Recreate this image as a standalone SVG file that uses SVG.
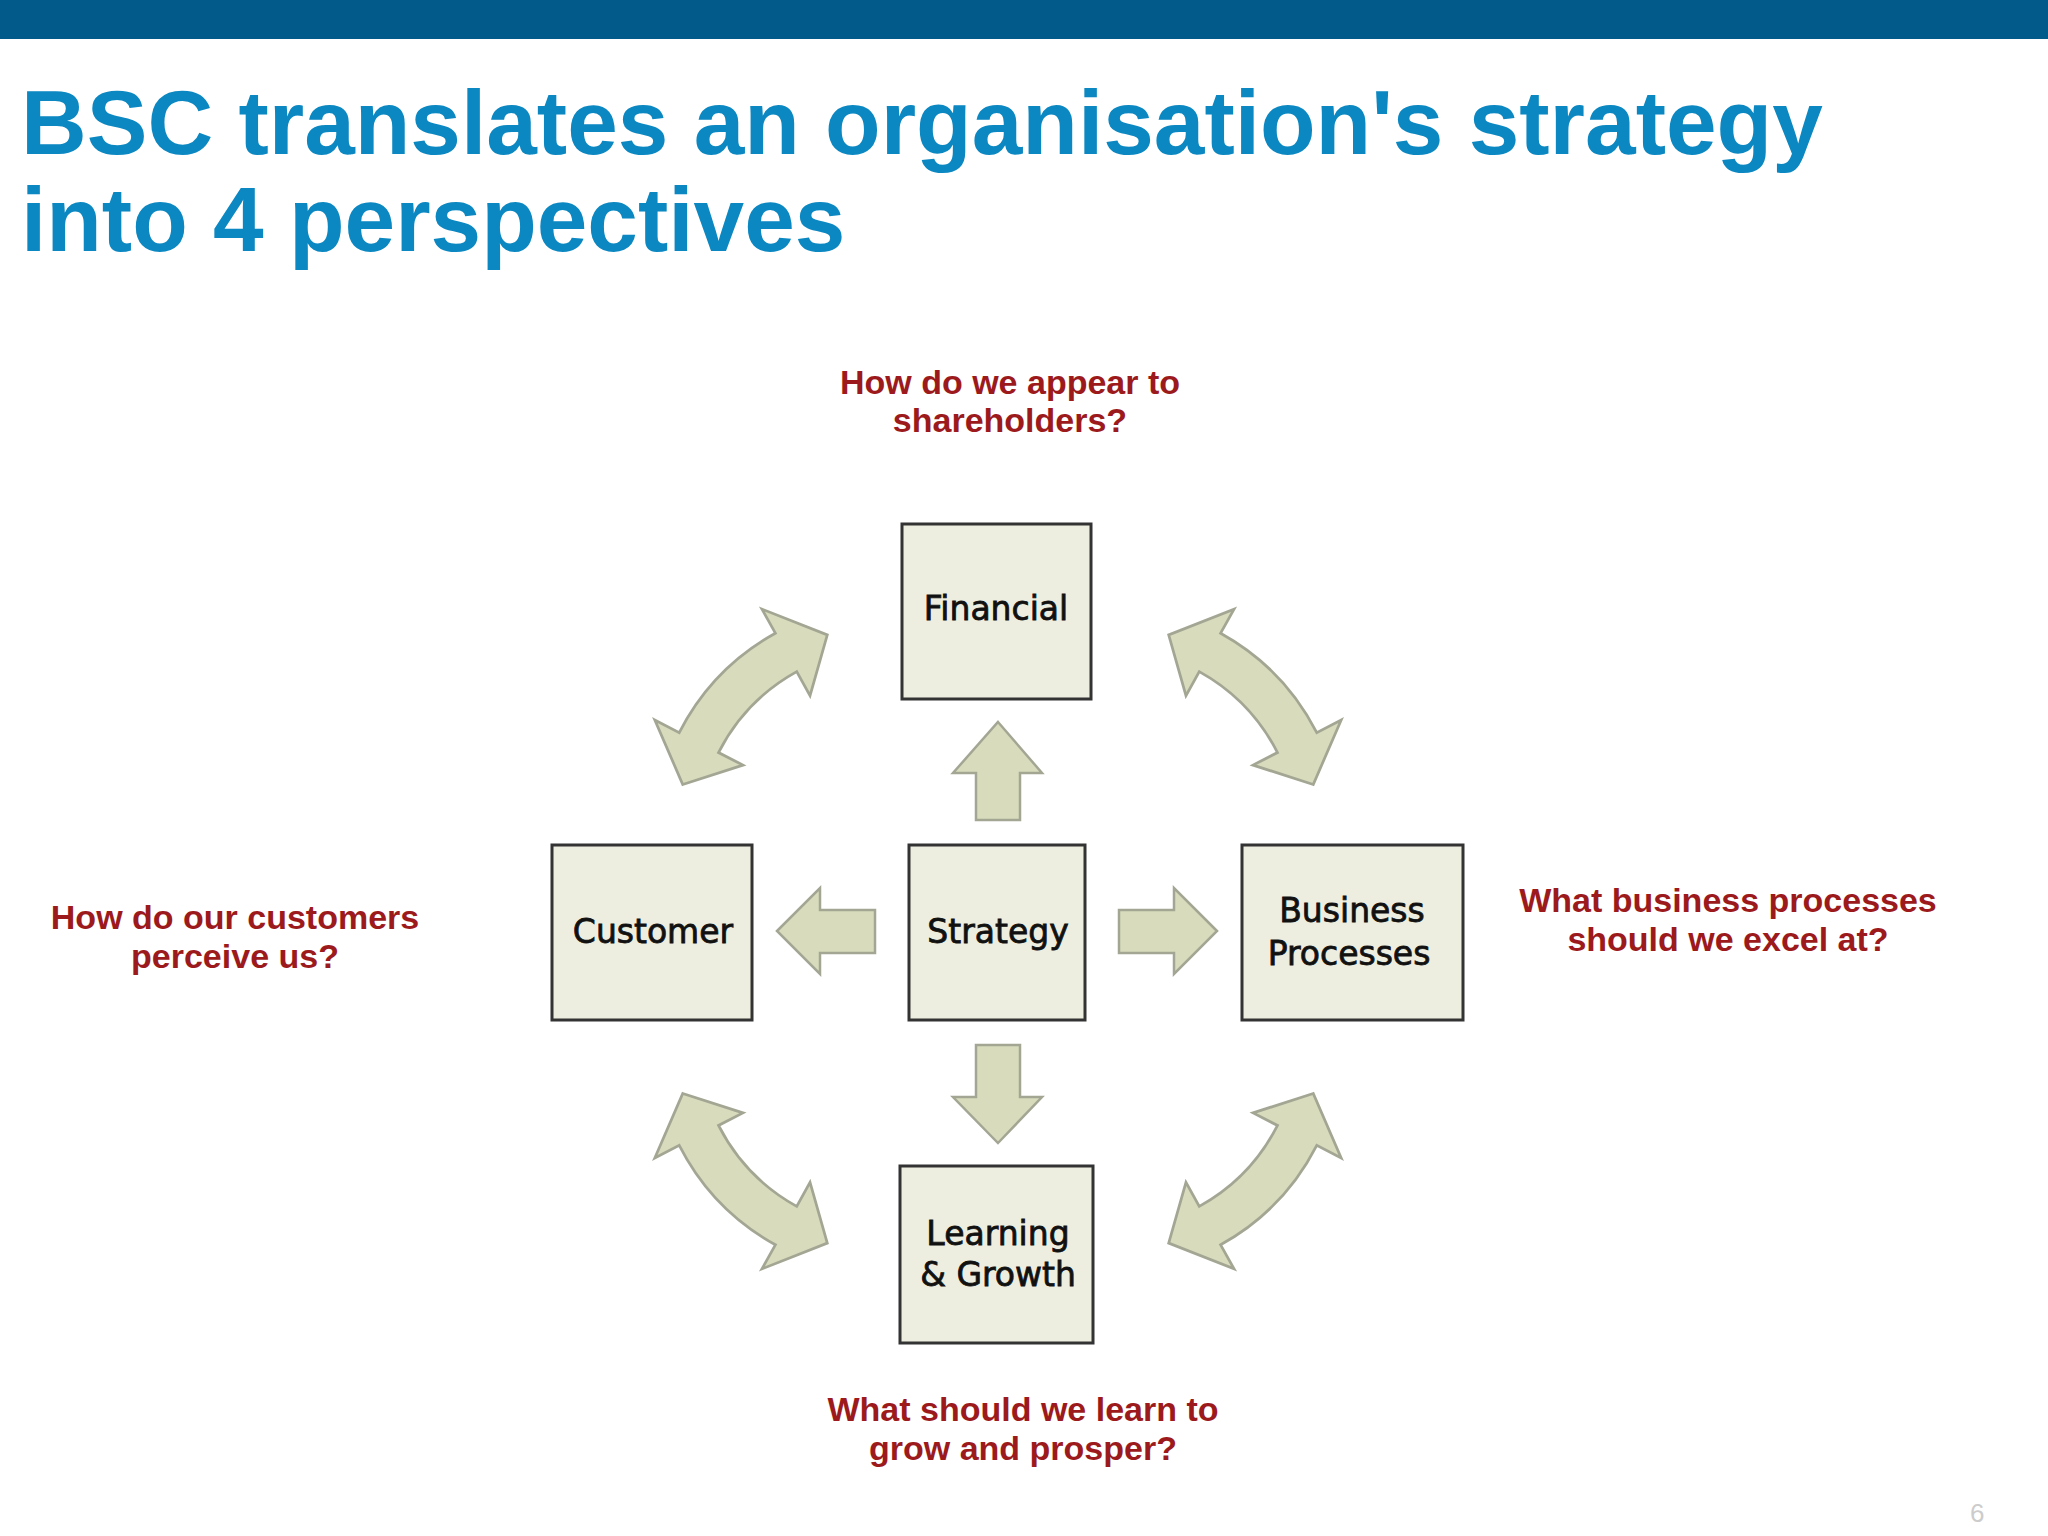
<svg xmlns="http://www.w3.org/2000/svg" width="2048" height="1536" viewBox="0 0 2048 1536">
<style>
.t{font-family:"Liberation Sans",Arial,sans-serif;font-weight:bold;fill:#0b87c1;font-size:91px}
.q{font-family:"Liberation Sans",Arial,sans-serif;font-weight:bold;fill:#9c1a1c;font-size:34px;text-anchor:middle}
.box{fill:#eeeee0;stroke:#333;stroke-width:3}
.lb{font-family:"DejaVu Sans",Verdana,sans-serif;font-size:33px;fill:#111;stroke:#111;stroke-width:0.8;text-anchor:middle}
.ar{fill:#d8dcbc;stroke:#a4a694;stroke-width:2.5;stroke-linejoin:miter}
</style>
<defs>
<path id="ca" class="ar" d="M-188.4,-50.5 L-133.7,-68.1 L-155.9,-79.5 A175 175 0 0 1 -84.8,-153.1 L-72.7,-131.2 L-57,-186.5 L-116.4,-209.9 L-104.2,-188 A215 215 0 0 0 -191.6,-97.6 L-213.8,-109 Z"/>
</defs>
<rect width="2048" height="1536" fill="#fff"/>
<rect width="2048" height="39" fill="#025a8a"/>
<text class="t" x="21" y="154">BSC translates an organisation's strategy</text>
<text class="t" x="21" y="251">into 4 perspectives</text>
<g id="questions">
<text class="q" x="1010" y="394">How do we appear to</text>
<text class="q" x="1010" y="432">shareholders?</text>
<text class="q" x="235" y="929">How do our customers</text>
<text class="q" x="235" y="968">perceive us?</text>
<text class="q" x="1728" y="912">What business processes</text>
<text class="q" x="1728" y="951">should we  excel at?</text>
<text class="q" x="1023" y="1421">What should we learn to</text>
<text class="q" x="1023" y="1460">grow and prosper?</text>
</g>
<g id="connectors">
<path class="ar" d="M998,722 L1042,773 L1020,773 L1020,820 L976,820 L976,773 L953,773 Z"/>
<path class="ar" d="M998,1143 L1042,1097 L1020,1097 L1020,1045 L976,1045 L976,1097 L953,1097 Z"/>
<path class="ar" d="M777,931 L820,888 L820,910 L875,910 L875,953 L820,953 L820,974 Z"/>
<path class="ar" d="M1217,931 L1174,888 L1174,910 L1119,910 L1119,953 L1174,953 L1174,974 Z"/>
<use href="#ca" transform="translate(890,840) scale(1.1)"/>
<use href="#ca" transform="translate(1106,840) scale(-1.1,1.1)"/>
<use href="#ca" transform="translate(890,1038) scale(1.1,-1.1)"/>
<use href="#ca" transform="translate(1106,1038) scale(-1.1,-1.1)"/>
</g>
<g id="financial"><rect class="box" x="902" y="524" width="189" height="175"/><text class="lb" x="996" y="620">Financial</text></g>
<g id="customer"><rect class="box" x="552" y="845" width="200" height="175"/><text class="lb" x="653" y="943">Customer</text></g>
<g id="strategy"><rect class="box" x="909" y="845" width="176" height="175"/><text class="lb" x="998" y="943">Strategy</text></g>
<g id="business"><rect class="box" x="1242" y="845" width="221" height="175"/><text class="lb" x="1352" y="922">Business</text><text class="lb" x="1349" y="965">Processes</text></g>
<g id="learning"><rect class="box" x="900" y="1166" width="193" height="177"/><text class="lb" x="998" y="1245">Learning</text><text class="lb" x="998" y="1286">&amp; Growth</text></g>
<text x="1970" y="1522" font-family="Liberation Sans,sans-serif" font-size="26" fill="#ccc">6</text>
</svg>
